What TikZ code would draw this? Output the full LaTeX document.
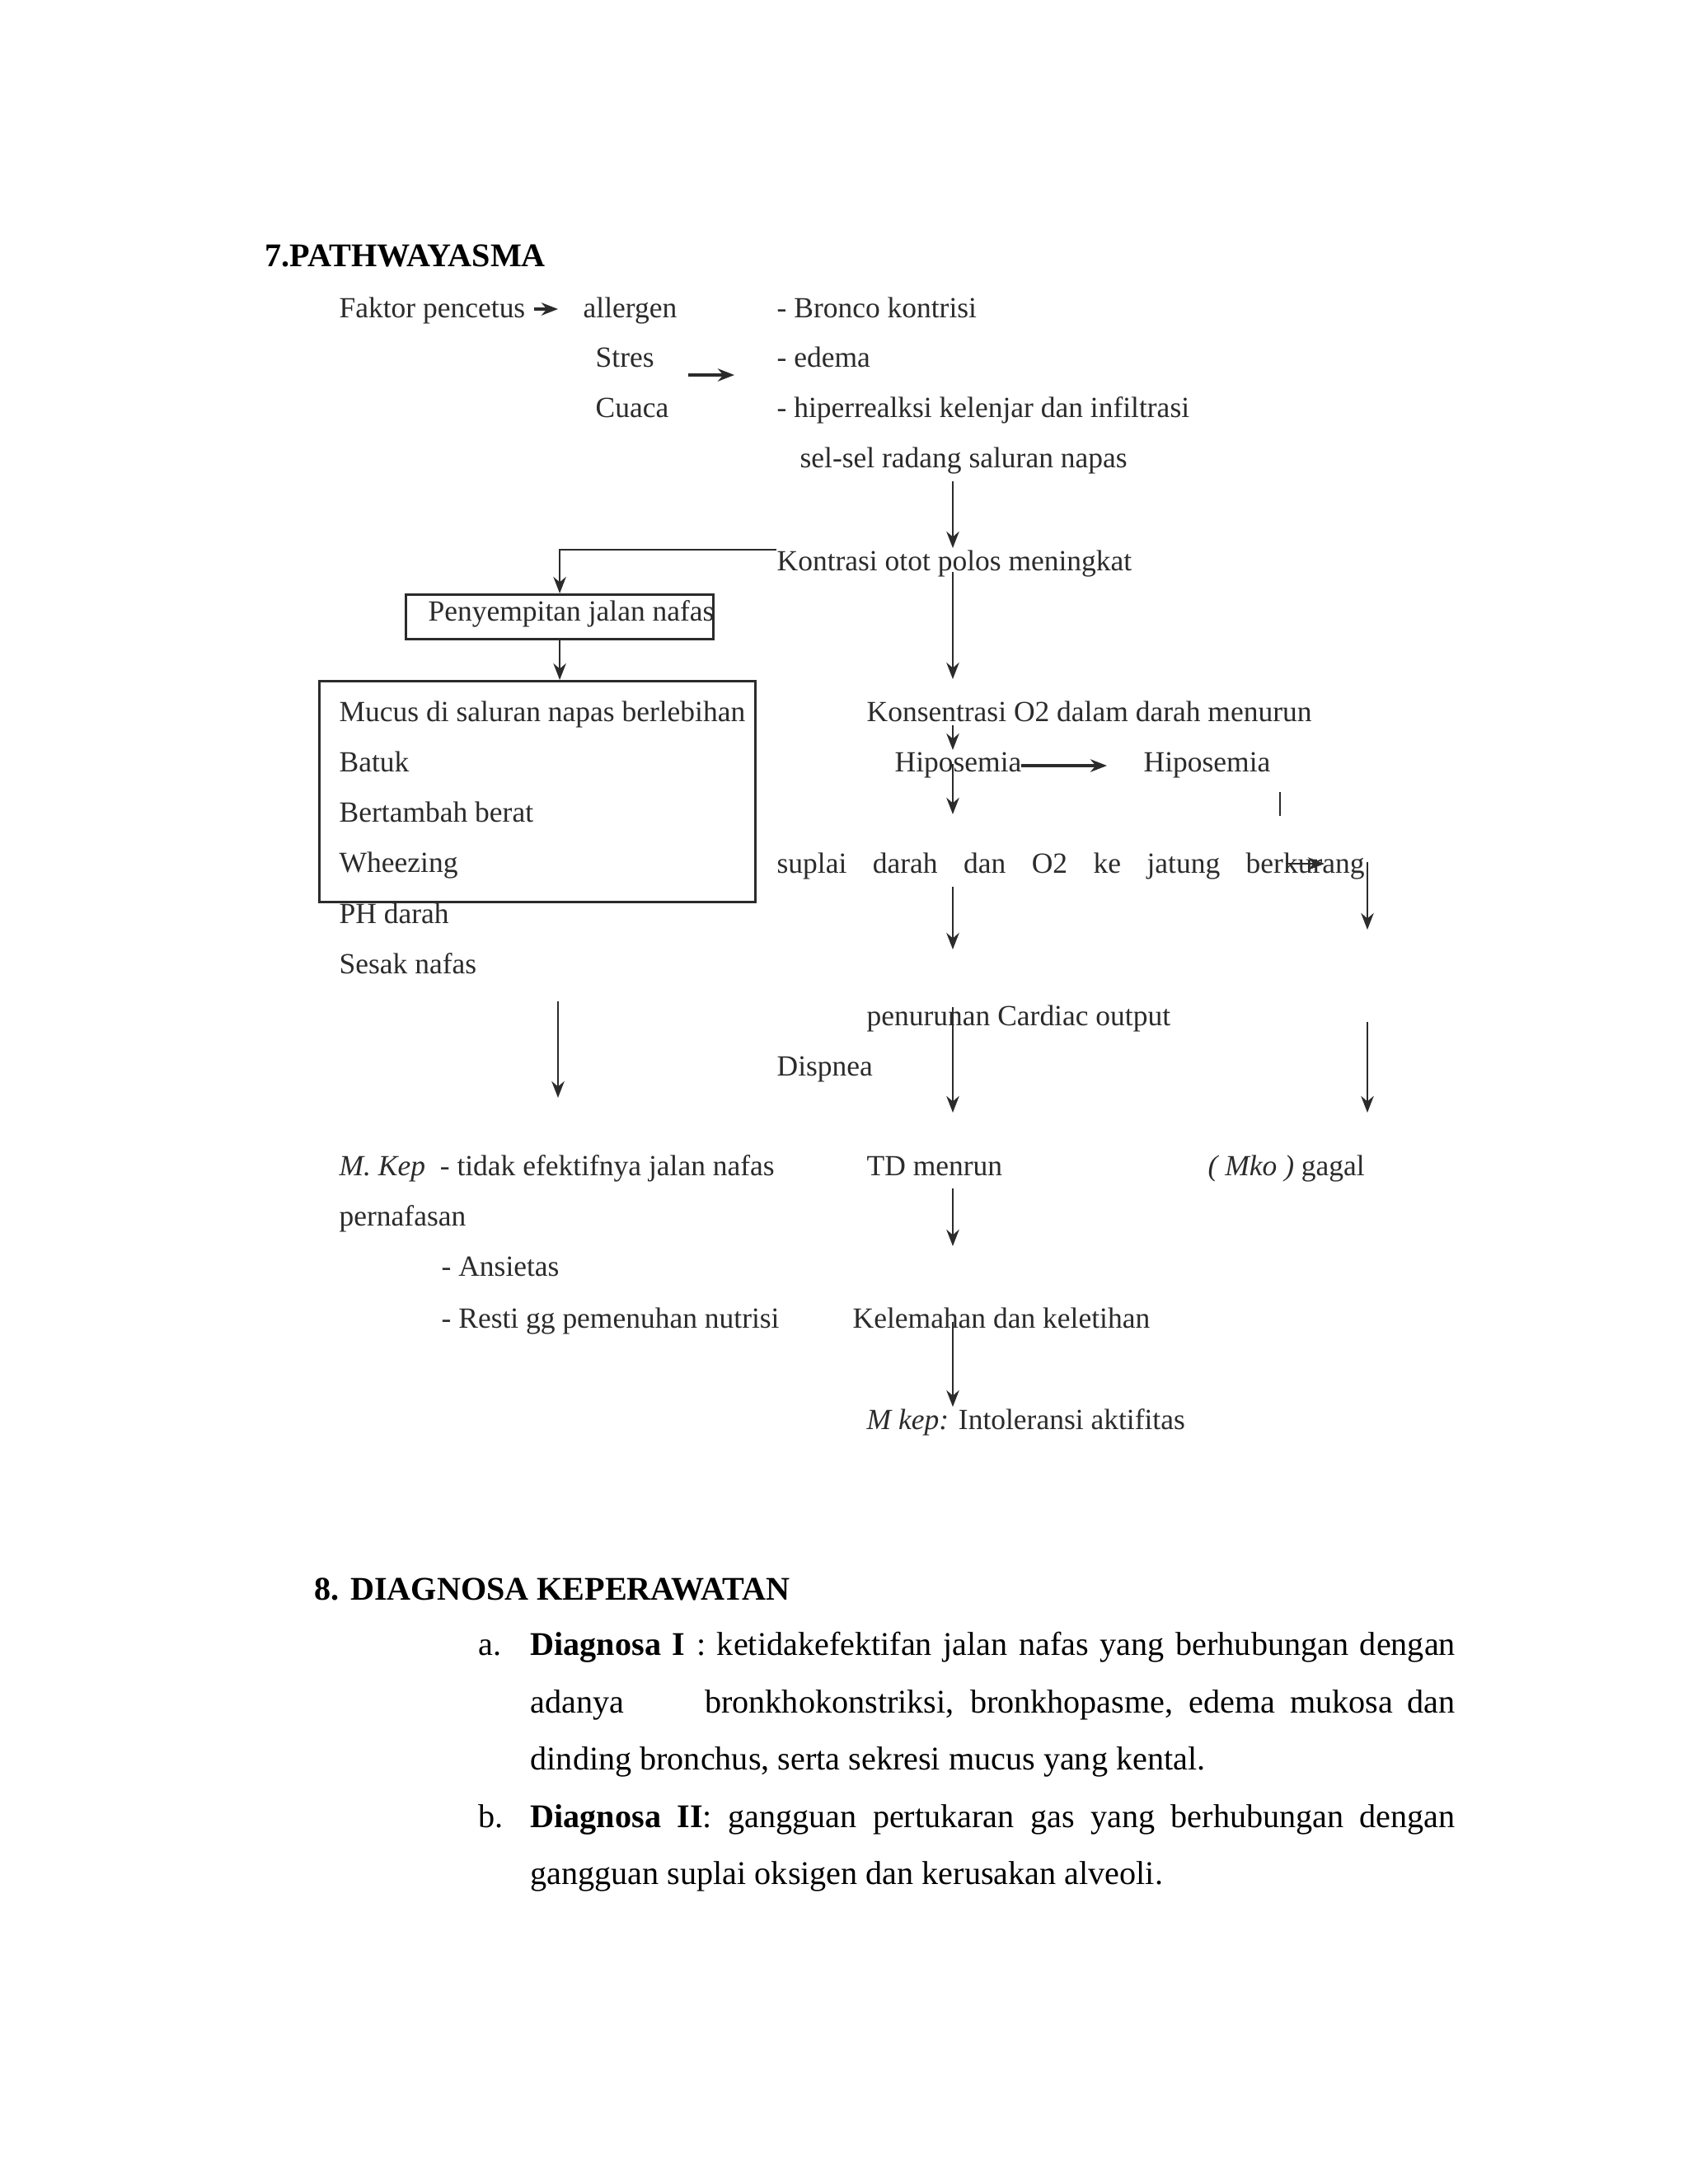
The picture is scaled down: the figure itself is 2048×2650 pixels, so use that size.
\documentclass[tikz,border=0pt]{standalone}
\usepackage{fontspec}
\setmainfont{Liberation Serif}
\usetikzlibrary{arrows.meta}
\definecolor{ink}{HTML}{2B2B2B}
\begin{document}
\begin{tikzpicture}[x=0.2988pt,y=-0.2988pt,
  ft/.style={anchor=base west,inner sep=0pt,text=ink,font=\fontsize{10.6}{12}\selectfont},
  dt/.style={anchor=base west,inner sep=0pt,text=black,font=\fontsize{12}{14}\selectfont},
  hd/.style={anchor=base west,inner sep=0pt,text=black,font=\bfseries\fontsize{12}{14}\selectfont},
  arr/.style={draw=ink,line width=0.8pt,-{Stealth[length=6pt,width=4.6pt]}},
  ln/.style={draw=ink,line width=0.8pt},
  boxc/.style={draw=ink,line width=0.9pt,inner sep=0pt,anchor=north west}]
\useasboundingbox[fill=white] (0,0) rectangle (2048,2650);

% ---------- heading 7 ----------
\node[hd] (t7) at (321,323) {7.PATHWAYASMA};

% ---------- top block ----------
\node[ft] (faktor) at (411,385) {Faktor pencetus};
\coordinate (a1s) at (648,375); \coordinate (a1e) at (677,375);
\draw[arr,line width=1pt] (a1s) -- (a1e);
\node[ft] (allergen) at (707,385) {allergen};
\node[ft] (stres) at (722,445) {Stres};
\node[ft] (cuaca) at (722,506) {Cuaca};
\coordinate (a2s) at (835,455); \coordinate (a2e) at (891,455);
\draw[arr,line width=1pt] (a2s) -- (a2e);
\node[ft] (bronco) at (942,385) {- Bronco kontrisi};
\node[ft] (edema) at (942,445) {- edema};
\node[ft] (hiper) at (942,506) {- hiperrealksi kelenjar dan infiltrasi};
\node[ft] (selsel) at (970,567) {sel-sel radang saluran napas};

% ---------- Kontrasi ----------
\coordinate (m1s) at (1156,584); \coordinate (m1e) at (1156,665);
\draw[arr] (m1s) -- (m1e);
\node[ft] (kontrasi) at (942,692) {Kontrasi otot polos meningkat};

% ---------- left branch ----------
\node[boxc,minimum width=111.5pt,minimum height=16.1pt] (pbox) at (491,720) {};
\node[ft] (penyempitan) at (519,753) {Penyempitan jalan nafas};
\coordinate (k1) at (942,667);
\draw[arr] (k1) -| (pbox.north);
\node[boxc,minimum width=158.1pt,minimum height=80.1pt] (bigbox) at (386,825) {};
\draw[arr] (pbox.south) -- (pbox.south |- bigbox.north);
\node[ft] (mucus) at (411,875) {Mucus di saluran napas berlebihan};
\node[ft] (batuk) at (411,936) {Batuk};
\node[ft] (berat) at (411,997) {Bertambah berat};
\node[ft] (wheezing) at (411,1058) {Wheezing};
\node[ft] (ph) at (411,1120) {PH darah};
\node[ft] (sesak) at (411,1181) {Sesak nafas};
\coordinate (l1s) at (677,1215); \coordinate (l1e) at (677,1332);
\draw[arr] (l1s) -- (l1e);
\node[ft] (mkep) at (411,1426) {\textit{M. Kep}\ \ - tidak efektifnya jalan nafas};
\node[ft] (pernafasan) at (411,1487) {pernafasan};
\node[ft] (ansietas) at (535,1548) {- Ansietas};
\node[ft] (resti) at (535,1611) {- Resti gg pemenuhan nutrisi};

% ---------- middle column ----------
\coordinate (m2s) at (1156,694); \coordinate (m2e) at (1156,824);
\draw[arr] (m2s) -- (m2e);
\node[ft] (konsentrasi) at (1051,875) {Konsentrasi O2 dalam darah menurun};
\coordinate (m3s) at (1156,880); \coordinate (m3e) at (1156,910);
\draw[arr] (m3s) -- (m3e);
\node[ft] (hipo1) at (1085,936) {Hiposemia};
\coordinate (m4s) at (1156,927); \coordinate (m4e) at (1156,988);
\draw[arr] (m4s) -- (m4e);
\node[ft] (hipo2) at (1387,936) {Hiposemia};
\coordinate (h1s) at (1239,929); \coordinate (h1e) at (1343,929);
\draw[arr,line width=1pt] (h1s) -- (h1e);
\coordinate (tk1) at (1553,961); \coordinate (tk2) at (1553,990);
\draw[ln,line width=0.6pt] (tk1) -- (tk2);
\node[ft] (suplai) at (942,1059) {\makebox[213pt][s]{suplai darah dan O2 ke jatung berkurang}};
\coordinate (b1s) at (1560,1048); \coordinate (b1e) at (1607,1048);
\draw[arr] (b1s) -- (b1e);
\coordinate (r1s) at (1659,1046); \coordinate (r1e) at (1659,1128);
\draw[arr] (r1s) -- (r1e);
\coordinate (m5s) at (1156,1076); \coordinate (m5e) at (1156,1152);
\draw[arr] (m5s) -- (m5e);
\node[ft] (penurunan) at (1051,1244) {penurunan Cardiac output};
\node[ft] (dispnea) at (942,1305) {Dispnea};
\coordinate (m6s) at (1156,1222); \coordinate (m6e) at (1156,1350);
\draw[arr] (m6s) -- (m6e);
\coordinate (r2s) at (1659,1240); \coordinate (r2e) at (1659,1350);
\draw[arr] (r2s) -- (r2e);
\node[ft] (td) at (1051,1426) {TD menrun};
\node[ft] (mko) at (1465,1426) {\textit{( Mko )} gagal};
\coordinate (m7s) at (1156,1442); \coordinate (m7e) at (1156,1512);
\draw[arr] (m7s) -- (m7e);
\node[ft] (kelemahan) at (1034,1611) {Kelemahan dan keletihan};
\coordinate (m8s) at (1156,1604); \coordinate (m8e) at (1156,1707);
\draw[arr] (m8s) -- (m8e);
\node[ft] (intol) at (1051,1734) {\textit{M kep:} Intoleransi aktifitas};

% ---------- section 8 ----------
\node[hd] (t8) at (381,1941) {8. DIAGNOSA KEPERAWATAN};
\node[dt] (la) at (580,2008) {a.};
\node[dt] (a1) at (643,2008) {\makebox[335.3pt][s]{\textbf{Diagnosa I} : ketidakefektifan jalan nafas yang berhubungan dengan}};
\node[dt] (a2) at (643,2078) {\makebox[335.3pt][s]{adanya\hspace*{24pt} bronkhokonstriksi, bronkhopasme, edema mukosa dan}};
\node[dt] (a3) at (643,2147) {dinding bronchus, serta sekresi mucus yang kental.};
\node[dt] (lb) at (580,2217) {b.};
\node[dt] (b1) at (643,2217) {\makebox[335.3pt][s]{\textbf{Diagnosa II}: gangguan pertukaran gas yang berhubungan dengan}};
\node[dt] (b2) at (643,2286) {gangguan suplai oksigen dan kerusakan alveoli.};
\end{tikzpicture}
\end{document}
